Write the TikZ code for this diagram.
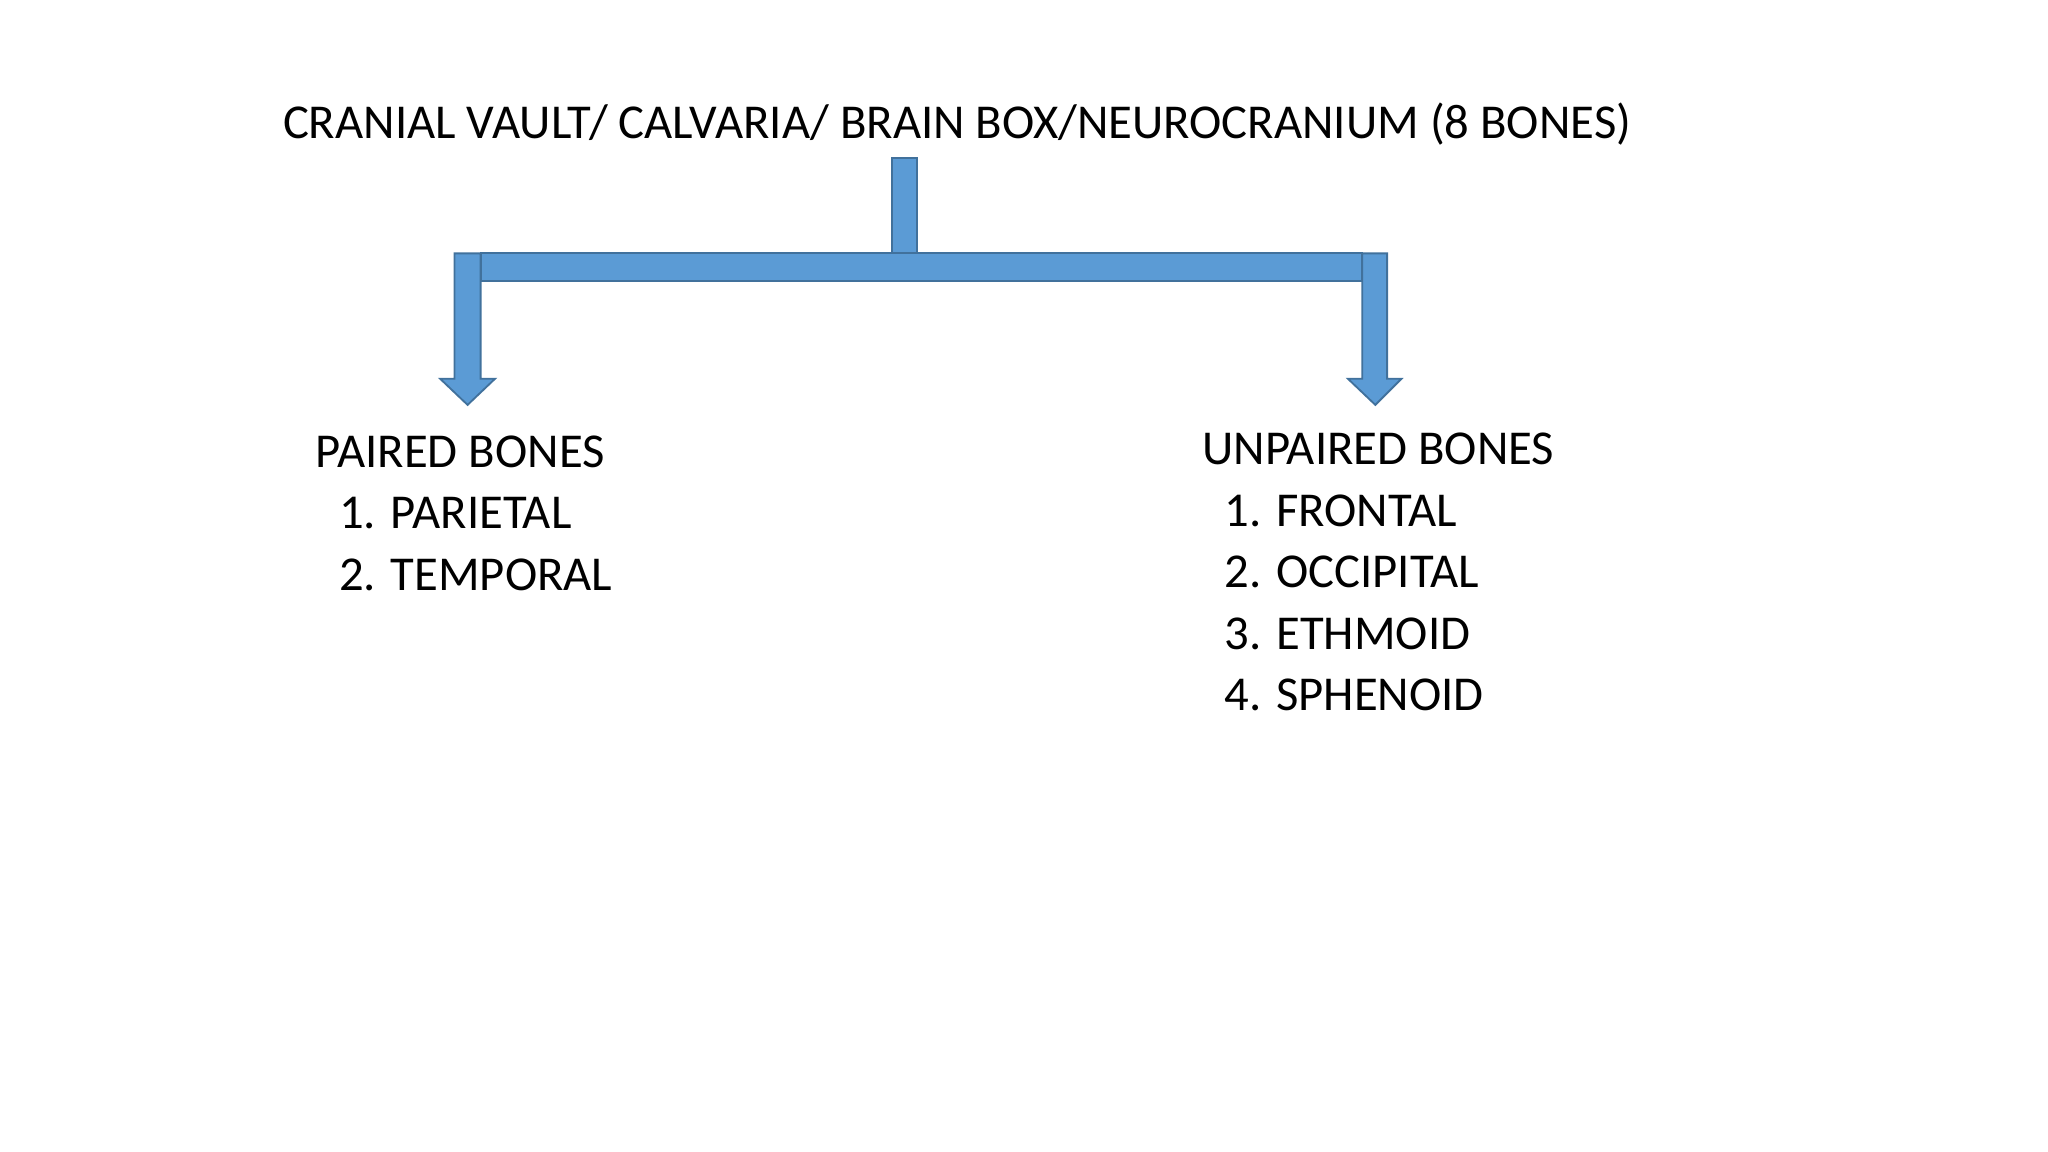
\documentclass[tikz,border=0pt]{standalone}
\usepackage{fontspec}
\setmainfont{Carlito}
\definecolor{arrfill}{RGB}{91,155,213}
\definecolor{arrline}{RGB}{65,113,156}
\tikzset{arrowshape/.style={fill=arrfill,draw=arrline,line width=0.4pt},
 txt/.style={anchor=base west,inner sep=0pt,font=\fontsize{10.6}{12}\selectfont}}
\begin{document}
\begin{tikzpicture}[x=0.01cm,y=-0.01cm]
\useasboundingbox (0,0) rectangle (1568,882);
\node[txt] (title) at (216,106) {CRANIAL VAULT/ CALVARIA/ BRAIN BOX/NEUROCRANIUM (8 BONES)};
\draw[arrowshape] (683,121) rectangle (702,194);
\draw[arrowshape] (368,194) rectangle (1043,215);
\draw[arrowshape] (348,194) -- (368,194) -- (368,290) -- (379,290) -- (358,310) -- (337,290) -- (348,290) -- cycle;
\draw[arrowshape] (1043,194) -- (1062,194) -- (1062,290) -- (1073,290) -- (1053,310) -- (1032,290) -- (1043,290) -- cycle;
\node[txt] (paired) at (241,358) {PAIRED BONES};
\node[txt] (p1) at (259,405) {1. PARIETAL};
\node[txt] (p2) at (259,452) {2. TEMPORAL};
\node[txt] (unpaired) at (920,356) {UNPAIRED BONES};
\node[txt] (u1) at (937,403) {1. FRONTAL};
\node[txt] (u2) at (937,450) {2. OCCIPITAL};
\node[txt] (u3) at (937,497) {3. ETHMOID};
\node[txt] (u4) at (937,544) {4. SPHENOID};
\end{tikzpicture}
\end{document}
